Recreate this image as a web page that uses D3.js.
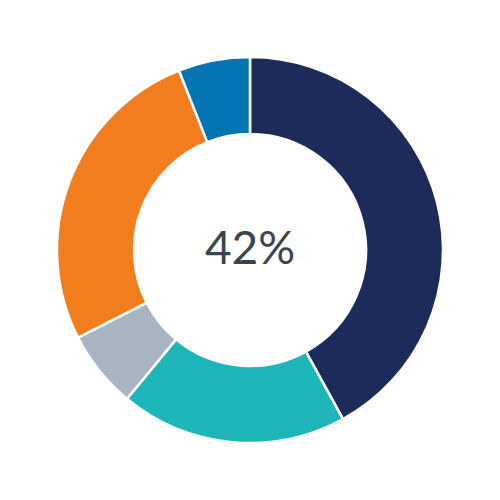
<!DOCTYPE html>
<html><head><meta charset="utf-8">
<script src="https://cdn.jsdelivr.net/npm/d3@7"></script>
<style>body{margin:0;background:#fff}</style>
</head><body>
<svg id="c" width="500" height="500"></svg>
<script>
const categories = ["A","B","C","D","E"];
const values = [42, 19, 6.5, 26.5, 6];
const colors = ["#1c2b5a","#1db5b7","#a8b4c1","#f27d1f","#0474b3"];
const centerLabel = "42%";

const svg = d3.select("#c");
const g = svg.append("g").attr("transform","translate(250,250)");
const pie = d3.pie().sort(null).value(d=>d)(values);
const arc = d3.arc().innerRadius(116).outerRadius(193);
g.selectAll("path").data(pie).enter().append("path")
  .attr("d",arc)
  .attr("fill",(d,i)=>colors[i])
  .attr("stroke","#fff").attr("stroke-width",2.5);
g.append("text").attr("text-anchor","middle").attr("dy","0.3em")
  .attr("font-family","Lato, sans-serif").attr("font-size",46)
  .attr("fill","#3b444b").text(centerLabel);
</script>
</body></html>
